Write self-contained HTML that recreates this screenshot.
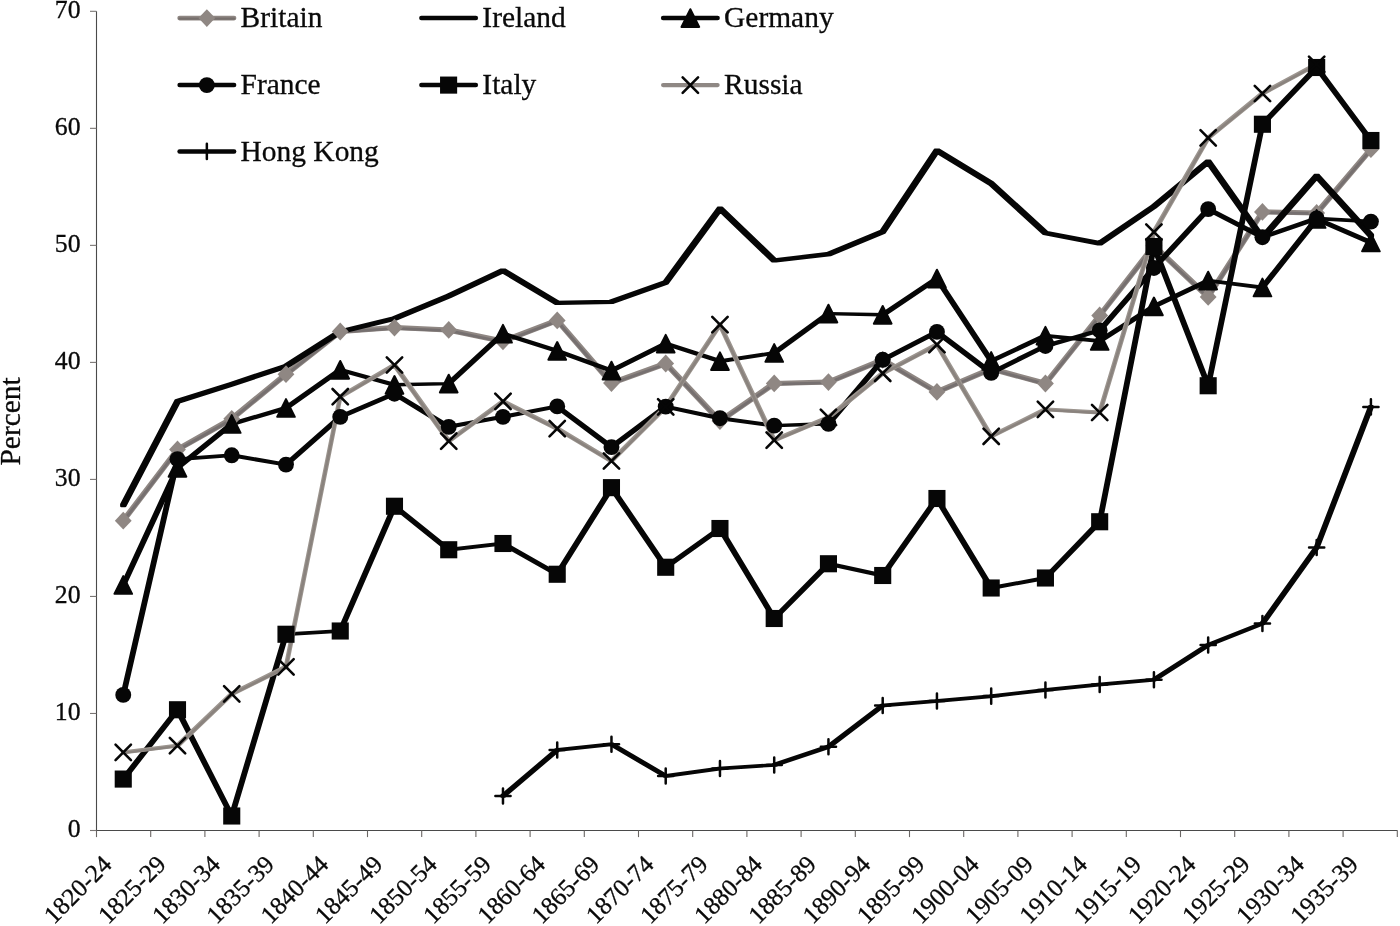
<!DOCTYPE html>
<html lang="en"><head><meta charset="utf-8"><title>Percent chart</title>
<style>
html,body{margin:0;padding:0;background:#fff;}
body{width:1400px;height:926px;overflow:hidden;}
svg{display:block;}
text{font-family:"Liberation Serif","Times New Roman",serif;fill:#0a0a0a;stroke:#0a0a0a;stroke-width:0.3px;}
</style></head><body>
<svg width="1400" height="926" viewBox="0 0 1400 926">
<rect width="1400" height="926" fill="#fff"/>

<g stroke="#4a4a4a" stroke-width="1.1" fill="none">
<path d="M96.5 11.3V830.5H1397.5"/>
<path d="M90 11.30H96.4" stroke="#7a7674"/>
<path d="M90 128.33H96.4" stroke="#7a7674"/>
<path d="M90 245.36H96.4" stroke="#7a7674"/>
<path d="M90 362.39H96.4" stroke="#7a7674"/>
<path d="M90 479.41H96.4" stroke="#7a7674"/>
<path d="M90 596.44H96.4" stroke="#7a7674"/>
<path d="M90 713.47H96.4" stroke="#7a7674"/>
<path d="M90 830.50H96.4" stroke="#7a7674"/>
<path d="M96.50 830.5V837.1" stroke="#6a6664"/>
<path d="M150.70 830.5V837.1" stroke="#6a6664"/>
<path d="M204.90 830.5V837.1" stroke="#6a6664"/>
<path d="M259.10 830.5V837.1" stroke="#6a6664"/>
<path d="M313.30 830.5V837.1" stroke="#6a6664"/>
<path d="M367.50 830.5V837.1" stroke="#6a6664"/>
<path d="M421.70 830.5V837.1" stroke="#6a6664"/>
<path d="M475.90 830.5V837.1" stroke="#6a6664"/>
<path d="M530.10 830.5V837.1" stroke="#6a6664"/>
<path d="M584.30 830.5V837.1" stroke="#6a6664"/>
<path d="M638.50 830.5V837.1" stroke="#6a6664"/>
<path d="M692.70 830.5V837.1" stroke="#6a6664"/>
<path d="M746.90 830.5V837.1" stroke="#6a6664"/>
<path d="M801.10 830.5V837.1" stroke="#6a6664"/>
<path d="M855.30 830.5V837.1" stroke="#6a6664"/>
<path d="M909.50 830.5V837.1" stroke="#6a6664"/>
<path d="M963.70 830.5V837.1" stroke="#6a6664"/>
<path d="M1017.90 830.5V837.1" stroke="#6a6664"/>
<path d="M1072.10 830.5V837.1" stroke="#6a6664"/>
<path d="M1126.30 830.5V837.1" stroke="#6a6664"/>
<path d="M1180.50 830.5V837.1" stroke="#6a6664"/>
<path d="M1234.70 830.5V837.1" stroke="#6a6664"/>
<path d="M1288.90 830.5V837.1" stroke="#6a6664"/>
<path d="M1343.10 830.5V837.1" stroke="#6a6664"/>
<path d="M1397.30 830.5V837.1" stroke="#6a6664"/>
</g>
<g font-size="25.76" text-anchor="end">
<text transform="translate(80.6 17.80)">70</text>
<text transform="translate(80.6 134.83)">60</text>
<text transform="translate(80.6 251.86)">50</text>
<text transform="translate(80.6 368.89)">40</text>
<text transform="translate(80.6 485.91)">30</text>
<text transform="translate(80.6 602.94)">20</text>
<text transform="translate(80.6 719.97)">10</text>
<text transform="translate(80.6 837.00)">0</text>
</g>
<text font-size="29.44" text-anchor="middle" transform="translate(19.6 421.4) rotate(-90)">Percent</text>
<g font-size="25.1" text-anchor="end">
<text transform="translate(113.10 865.8) rotate(-45)">1820-24</text>
<text transform="translate(167.30 865.8) rotate(-45)">1825-29</text>
<text transform="translate(221.50 865.8) rotate(-45)">1830-34</text>
<text transform="translate(275.70 865.8) rotate(-45)">1835-39</text>
<text transform="translate(329.90 865.8) rotate(-45)">1840-44</text>
<text transform="translate(384.10 865.8) rotate(-45)">1845-49</text>
<text transform="translate(438.30 865.8) rotate(-45)">1850-54</text>
<text transform="translate(492.50 865.8) rotate(-45)">1855-59</text>
<text transform="translate(546.70 865.8) rotate(-45)">1860-64</text>
<text transform="translate(600.90 865.8) rotate(-45)">1865-69</text>
<text transform="translate(655.10 865.8) rotate(-45)">1870-74</text>
<text transform="translate(709.30 865.8) rotate(-45)">1875-79</text>
<text transform="translate(763.50 865.8) rotate(-45)">1880-84</text>
<text transform="translate(817.70 865.8) rotate(-45)">1885-89</text>
<text transform="translate(871.90 865.8) rotate(-45)">1890-94</text>
<text transform="translate(926.10 865.8) rotate(-45)">1895-99</text>
<text transform="translate(980.30 865.8) rotate(-45)">1900-04</text>
<text transform="translate(1034.50 865.8) rotate(-45)">1905-09</text>
<text transform="translate(1088.70 865.8) rotate(-45)">1910-14</text>
<text transform="translate(1142.90 865.8) rotate(-45)">1915-19</text>
<text transform="translate(1197.10 865.8) rotate(-45)">1920-24</text>
<text transform="translate(1251.30 865.8) rotate(-45)">1925-29</text>
<text transform="translate(1305.50 865.8) rotate(-45)">1930-34</text>
<text transform="translate(1359.70 865.8) rotate(-45)">1935-39</text>
</g>
<g>
<path d="M122.1 519.2L176.3 448.0L178.6 448.0L178.6 451.0L124.4 522.2L122.1 522.2ZM176.3 448.0L230.6 417.3L232.9 417.3L232.9 420.3L178.6 451.0L176.3 451.0ZM230.6 417.3L284.8 372.7L287.1 372.7L287.1 375.7L232.9 420.3L230.6 420.3ZM284.8 372.7L339.1 330.0L341.4 330.0L341.4 333.0L287.1 375.7L284.8 375.7ZM339.1 330.0L393.3 326.1L395.6 326.1L395.6 329.1L341.4 333.0L339.1 333.0ZM393.3 326.1L395.6 326.1L449.9 328.4L449.9 331.4L447.6 331.4L393.3 329.1ZM447.6 328.4L449.9 328.4L504.1 339.8L504.1 342.8L501.8 342.8L447.6 331.4ZM501.8 339.8L556.1 318.9L558.4 318.9L558.4 321.9L504.1 342.8L501.8 342.8ZM556.1 318.9L558.4 318.9L612.6 381.6L612.6 384.6L610.3 384.6L556.1 321.9ZM610.3 381.6L664.6 362.0L666.9 362.0L666.9 365.0L612.6 384.6L610.3 384.6ZM664.6 362.0L666.9 362.0L721.1 419.5L721.1 422.5L718.8 422.5L664.6 365.0ZM718.8 419.5L773.1 381.9L775.4 381.9L775.4 384.9L721.1 422.5L718.8 422.5ZM773.1 381.9L827.3 380.6L829.6 380.6L829.6 383.6L775.4 384.9L773.1 384.9ZM827.3 380.6L881.5 358.3L883.8 358.3L883.8 361.3L829.6 383.6L827.3 383.6ZM881.5 358.3L883.8 358.3L938.1 390.4L938.1 393.4L935.8 393.4L881.5 361.3ZM935.8 390.4L990.0 367.3L992.3 367.3L992.3 370.3L938.1 393.4L935.8 393.4ZM990.0 367.3L992.3 367.3L1046.6 382.0L1046.6 385.0L1044.3 385.0L990.0 370.3ZM1044.3 382.0L1098.5 314.0L1100.8 314.0L1100.8 317.0L1046.6 385.0L1044.3 385.0ZM1098.5 314.0L1152.8 244.3L1155.1 244.3L1155.1 247.3L1100.8 317.0L1098.5 317.0ZM1152.8 244.3L1155.1 244.3L1209.3 295.4L1209.3 298.4L1207.0 298.4L1152.8 247.3ZM1207.0 295.4L1261.3 210.4L1263.6 210.4L1263.6 213.4L1209.3 298.4L1207.0 298.4ZM1261.3 210.4L1263.6 210.4L1317.8 211.5L1317.8 214.5L1315.5 214.5L1261.3 213.4ZM1315.5 211.5L1369.8 147.7L1372.1 147.7L1372.1 150.7L1317.8 214.5L1315.5 214.5Z" fill="#8f8783" stroke="#8f8783" stroke-width="2.0" stroke-linejoin="round"/>
<polyline transform="scale(1.1 1)" points="112.048,521.40 161.363,450.20 210.677,419.50 259.992,374.90 309.306,332.20 358.621,328.30 407.935,330.60 457.250,342.00 506.565,321.10 555.879,383.80 605.194,364.20 654.508,421.70 703.823,384.10 753.137,382.80 802.452,360.50 851.766,392.60 901.081,369.50 950.395,384.20 999.710,316.20 1049.025,246.50 1098.339,297.60 1147.654,212.60 1196.968,213.70 1246.283,149.90" fill="none" stroke="#767070" stroke-width="2.8" stroke-linejoin="round" stroke-linecap="round"/>
<path d="M121.4 504.4L175.6 400.6L179.4 400.6L179.4 402.2L125.2 506.0L121.4 506.0ZM175.6 400.6L229.8 383.4L233.6 383.4L233.6 385.0L179.4 402.2L175.6 402.2ZM229.8 383.4L284.1 365.4L287.9 365.4L287.9 367.0L233.6 385.0L229.8 385.0ZM284.1 365.4L338.3 330.9L342.1 330.9L342.1 332.5L287.9 367.0L284.1 367.0ZM338.3 330.9L392.6 317.7L396.4 317.7L396.4 319.3L342.1 332.5L338.3 332.5ZM392.6 317.7L446.8 295.2L450.6 295.2L450.6 296.8L396.4 319.3L392.6 319.3ZM446.8 295.2L501.1 269.7L504.9 269.7L504.9 271.3L450.6 296.8L446.8 296.8ZM501.1 269.7L504.9 269.7L559.1 302.0L559.1 303.6L555.3 303.6L501.1 271.3ZM555.3 302.0L609.6 301.0L613.4 301.0L613.4 302.6L559.1 303.6L555.3 303.6ZM609.6 301.0L663.8 281.7L667.6 281.7L667.6 283.3L613.4 302.6L609.6 302.6ZM663.8 281.7L718.1 207.7L721.9 207.7L721.9 209.3L667.6 283.3L663.8 283.3ZM718.1 207.7L721.9 207.7L776.1 259.7L776.1 261.3L772.3 261.3L718.1 209.3ZM772.3 259.7L826.6 253.4L830.4 253.4L830.4 255.0L776.1 261.3L772.3 261.3ZM826.6 253.4L880.8 230.9L884.6 230.9L884.6 232.5L830.4 255.0L826.6 255.0ZM880.8 230.9L935.0 149.7L938.8 149.7L938.8 151.3L884.6 232.5L880.8 232.5ZM935.0 149.7L938.8 149.7L993.1 182.7L993.1 184.3L989.3 184.3L935.0 151.3ZM989.3 182.7L993.1 182.7L1047.3 232.2L1047.3 233.8L1043.5 233.8L989.3 184.3ZM1043.5 232.2L1047.3 232.2L1101.6 242.6L1101.6 244.2L1097.8 244.2L1043.5 233.8ZM1097.8 242.6L1152.0 205.7L1155.8 205.7L1155.8 207.3L1101.6 244.2L1097.8 244.2ZM1152.0 205.7L1206.3 160.7L1210.1 160.7L1210.1 162.3L1155.8 207.3L1152.0 207.3ZM1206.3 160.7L1210.1 160.7L1264.3 237.2L1264.3 238.8L1260.5 238.8L1206.3 162.3ZM1260.5 237.2L1314.8 175.0L1318.6 175.0L1318.6 176.6L1264.3 238.8L1260.5 238.8ZM1314.8 175.0L1318.6 175.0L1372.8 234.7L1372.8 236.3L1369.0 236.3L1314.8 176.6Z" fill="#060606" stroke="#060606" stroke-width="2.6" stroke-linejoin="round"/>
<path d="M121.6 584.4L175.8 467.2L179.2 467.2L179.2 468.4L125.0 585.6L121.6 585.6ZM175.8 467.2L230.0 423.4L233.4 423.4L233.4 424.6L179.2 468.4L175.8 468.4ZM230.0 423.4L284.3 407.4L287.7 407.4L287.7 408.6L233.4 424.6L230.0 424.6ZM284.3 407.4L338.5 369.2L341.9 369.2L341.9 370.4L287.7 408.6L284.3 408.6ZM338.5 369.2L341.9 369.2L396.2 384.2L396.2 385.5L392.8 385.5L338.5 370.4ZM392.8 384.2L447.0 383.0L450.4 383.0L450.4 384.2L396.2 385.5L392.8 385.5ZM447.0 383.0L501.3 333.1L504.7 333.1L504.7 334.3L450.4 384.2L447.0 384.2ZM501.3 333.1L504.7 333.1L558.9 350.2L558.9 351.5L555.5 351.5L501.3 334.3ZM555.5 350.2L558.9 350.2L613.2 370.0L613.2 371.2L609.8 371.2L555.5 351.5ZM609.8 370.0L664.0 343.1L667.4 343.1L667.4 344.3L613.2 371.2L609.8 371.2ZM664.0 343.1L667.4 343.1L721.7 360.6L721.7 361.8L718.3 361.8L664.0 344.3ZM718.3 360.6L772.5 352.4L775.9 352.4L775.9 353.6L721.7 361.8L718.3 361.8ZM772.5 352.4L826.8 313.0L830.2 313.0L830.2 314.2L775.9 353.6L772.5 353.6ZM826.8 313.0L830.2 313.0L884.4 314.2L884.4 315.5L881.0 315.5L826.8 314.2ZM881.0 314.2L935.2 278.0L938.6 278.0L938.6 279.2L884.4 315.5L881.0 315.5ZM935.2 278.0L938.6 278.0L992.9 360.4L992.9 361.6L989.5 361.6L935.2 279.2ZM989.5 360.4L1043.7 335.1L1047.1 335.1L1047.1 336.3L992.9 361.6L989.5 361.6ZM1043.7 335.1L1047.1 335.1L1101.4 340.4L1101.4 341.6L1098.0 341.6L1043.7 336.3ZM1098.0 340.4L1152.2 305.8L1155.6 305.8L1155.6 307.0L1101.4 341.6L1098.0 341.6ZM1152.2 305.8L1206.5 280.0L1209.9 280.0L1209.9 281.2L1155.6 307.0L1152.2 307.0ZM1206.5 280.0L1209.9 280.0L1264.1 286.9L1264.1 288.1L1260.7 288.1L1206.5 281.2ZM1260.7 286.9L1315.0 218.3L1318.4 218.3L1318.4 219.7L1264.1 288.1L1260.7 288.1ZM1315.0 218.3L1318.4 218.3L1372.6 241.8L1372.6 243.2L1369.2 243.2L1315.0 219.7Z" fill="#060606" stroke="#060606" stroke-width="2.2" stroke-linejoin="round"/>
<path d="M121.6 694.2L175.8 458.6L179.2 458.6L179.2 459.8L125.0 695.5L121.6 695.5ZM175.8 458.6L230.0 454.7L233.4 454.7L233.4 455.9L179.2 459.8L175.8 459.8ZM230.0 454.7L233.4 454.7L287.7 464.0L287.7 465.2L284.3 465.2L230.0 455.9ZM284.3 464.0L338.5 416.2L341.9 416.2L341.9 417.5L287.7 465.2L284.3 465.2ZM338.5 416.2L392.8 393.1L396.2 393.1L396.2 394.3L341.9 417.5L338.5 417.5ZM392.8 393.1L396.2 393.1L450.4 426.2L450.4 427.5L447.0 427.5L392.8 394.3ZM447.0 426.2L501.3 416.2L504.7 416.2L504.7 417.5L450.4 427.5L447.0 427.5ZM501.3 416.2L555.5 405.8L558.9 405.8L558.9 407.0L504.7 417.5L501.3 417.5ZM555.5 405.8L558.9 405.8L613.2 446.5L613.2 447.8L609.8 447.8L555.5 407.0ZM609.8 446.5L664.0 406.0L667.4 406.0L667.4 407.2L613.2 447.8L609.8 447.8ZM664.0 406.0L667.4 406.0L721.7 417.6L721.7 418.8L718.3 418.8L664.0 407.2ZM718.3 417.6L721.7 417.6L775.9 425.0L775.9 426.2L772.5 426.2L718.3 418.8ZM772.5 425.0L826.8 423.2L830.2 423.2L830.2 424.5L775.9 426.2L772.5 426.2ZM826.8 423.2L881.0 359.2L884.4 359.2L884.4 360.4L830.2 424.5L826.8 424.5ZM881.0 359.2L935.2 331.2L938.6 331.2L938.6 332.5L884.4 360.4L881.0 360.4ZM935.2 331.2L938.6 331.2L992.9 372.2L992.9 373.5L989.5 373.5L935.2 332.5ZM989.5 372.2L1043.7 345.4L1047.1 345.4L1047.1 346.6L992.9 373.5L989.5 373.5ZM1043.7 345.4L1098.0 329.8L1101.4 329.8L1101.4 331.0L1047.1 346.6L1043.7 346.6ZM1098.0 329.8L1152.2 267.4L1155.6 267.4L1155.6 268.6L1101.4 331.0L1098.0 331.0ZM1152.2 267.4L1206.5 208.4L1209.9 208.4L1209.9 209.8L1155.6 268.6L1152.2 268.6ZM1206.5 208.4L1209.9 208.4L1264.1 236.5L1264.1 237.8L1260.7 237.8L1206.5 209.8ZM1260.7 236.5L1315.0 217.8L1318.4 217.8L1318.4 219.1L1264.1 237.8L1260.7 237.8ZM1315.0 217.8L1318.4 217.8L1372.6 220.9L1372.6 222.2L1369.2 222.2L1315.0 219.1Z" fill="#060606" stroke="#060606" stroke-width="2.2" stroke-linejoin="round"/>
<path d="M121.6 778.4L175.8 709.1L179.2 709.1L179.2 710.4L125.0 779.7L121.6 779.7ZM175.8 709.1L179.2 709.1L233.4 815.4L233.4 816.6L230.0 816.6L175.8 710.4ZM230.0 815.4L284.3 633.6L287.7 633.6L287.7 634.9L233.4 816.6L230.0 816.6ZM284.3 633.6L338.5 630.4L341.9 630.4L341.9 631.6L287.7 634.9L284.3 634.9ZM338.5 630.4L392.8 505.6L396.2 505.6L396.2 506.9L341.9 631.6L338.5 631.6ZM392.8 505.6L396.2 505.6L450.4 549.1L450.4 550.4L447.0 550.4L392.8 506.9ZM447.0 549.1L501.3 542.9L504.7 542.9L504.7 544.1L450.4 550.4L447.0 550.4ZM501.3 542.9L504.7 542.9L558.9 573.6L558.9 574.9L555.5 574.9L501.3 544.1ZM555.5 573.6L609.8 487.0L613.2 487.0L613.2 488.3L558.9 574.9L555.5 574.9ZM609.8 487.0L613.2 487.0L667.4 566.6L667.4 567.9L664.0 567.9L609.8 488.3ZM664.0 566.6L718.3 527.9L721.7 527.9L721.7 529.1L667.4 567.9L664.0 567.9ZM718.3 527.9L721.7 527.9L775.9 617.9L775.9 619.1L772.5 619.1L718.3 529.1ZM772.5 617.9L826.8 563.1L830.2 563.1L830.2 564.4L775.9 619.1L772.5 619.1ZM826.8 563.1L830.2 563.1L884.4 574.9L884.4 576.1L881.0 576.1L826.8 564.4ZM881.0 574.9L935.2 497.9L938.6 497.9L938.6 499.1L884.4 576.1L881.0 576.1ZM935.2 497.9L938.6 497.9L992.9 587.4L992.9 588.6L989.5 588.6L935.2 499.1ZM989.5 587.4L1043.7 577.4L1047.1 577.4L1047.1 578.6L992.9 588.6L989.5 588.6ZM1043.7 577.4L1098.0 521.1L1101.4 521.1L1101.4 522.4L1047.1 578.6L1043.7 578.6ZM1098.0 521.1L1152.2 245.8L1155.6 245.8L1155.6 247.2L1101.4 522.4L1098.0 522.4ZM1152.2 245.8L1155.6 245.8L1209.9 385.1L1209.9 386.4L1206.5 386.4L1152.2 247.2ZM1206.5 385.1L1260.7 123.6L1264.1 123.6L1264.1 124.9L1209.9 386.4L1206.5 386.4ZM1260.7 123.6L1315.0 66.8L1318.4 66.8L1318.4 68.2L1264.1 124.9L1260.7 124.9ZM1315.0 66.8L1318.4 66.8L1372.6 139.8L1372.6 141.2L1369.2 141.2L1315.0 68.2Z" fill="#060606" stroke="#060606" stroke-width="2.2" stroke-linejoin="round"/>
<path d="M122.1 751.5L176.3 744.7L178.7 744.7L178.7 746.5L124.4 753.3L122.1 753.3ZM176.3 744.7L230.6 693.0L232.9 693.0L232.9 694.8L178.7 746.5L176.3 746.5ZM230.6 693.0L284.8 666.0L287.2 666.0L287.2 667.8L232.9 694.8L230.6 694.8ZM284.8 666.0L339.1 395.8L341.4 395.8L341.4 397.6L287.2 667.8L284.8 667.8ZM339.1 395.8L393.3 364.1L395.7 364.1L395.7 365.9L341.4 397.6L339.1 397.6ZM393.3 364.1L395.7 364.1L449.9 440.2L449.9 442.0L447.6 442.0L393.3 365.9ZM447.6 440.2L501.8 400.5L504.2 400.5L504.2 402.3L449.9 442.0L447.6 442.0ZM501.8 400.5L504.2 400.5L558.4 427.7L558.4 429.5L556.0 429.5L501.8 402.3ZM556.0 427.7L558.4 427.7L612.6 460.1L612.6 461.9L610.3 461.9L556.0 429.5ZM610.3 460.1L664.5 406.0L666.9 406.0L666.9 407.8L612.6 461.9L610.3 461.9ZM664.5 406.0L718.8 323.7L721.1 323.7L721.1 325.5L666.9 407.8L664.5 407.8ZM718.8 323.7L721.1 323.7L775.4 439.2L775.4 441.0L773.0 441.0L718.8 325.5ZM773.0 439.2L827.3 416.5L829.6 416.5L829.6 418.3L775.4 441.0L773.0 441.0ZM827.3 416.5L881.5 372.4L883.9 372.4L883.9 374.2L829.6 418.3L827.3 418.3ZM881.5 372.4L935.8 343.7L938.1 343.7L938.1 345.5L883.9 374.2L881.5 374.2ZM935.8 343.7L938.1 343.7L992.4 435.4L992.4 437.2L990.0 437.2L935.8 345.5ZM990.0 435.4L1044.3 408.5L1046.6 408.5L1046.6 410.3L992.4 437.2L990.0 437.2ZM1044.3 408.5L1046.6 408.5L1100.9 411.6L1100.9 413.4L1098.5 413.4L1044.3 410.3ZM1098.5 411.6L1152.8 231.1L1155.1 231.1L1155.1 232.9L1100.9 413.4L1098.5 413.4ZM1152.8 231.1L1207.0 136.9L1209.3 136.9L1209.3 138.8L1155.1 232.9L1152.8 232.9ZM1207.0 136.9L1261.2 92.6L1263.6 92.6L1263.6 94.4L1209.3 138.8L1207.0 138.8ZM1261.2 92.6L1315.5 63.4L1317.8 63.4L1317.8 65.2L1263.6 94.4L1261.2 94.4Z" fill="#9c958f" stroke="#9c958f" stroke-width="2.0" stroke-linejoin="round"/>
<polyline transform="scale(1.1 1)" points="112.048,752.90 161.363,746.10 210.677,694.35 259.992,667.35 309.306,397.20 358.621,365.50 407.935,441.60 457.250,401.90 506.565,429.10 555.879,461.50 605.194,407.40 654.508,325.10 703.823,440.60 753.137,417.90 802.452,373.80 851.766,345.10 901.081,436.80 950.395,409.90 999.710,413.00 1049.025,232.50 1098.339,138.35 1147.654,94.00 1196.968,64.75" fill="none" stroke="#8a837e" stroke-width="2.4" stroke-linejoin="round" stroke-linecap="round"/>
<path d="M501.3 795.4L555.5 749.4L558.9 749.4L558.9 750.6L504.7 796.6L501.3 796.6ZM555.5 749.4L609.8 743.6L613.2 743.6L613.2 744.9L558.9 750.6L555.5 750.6ZM609.8 743.6L613.2 743.6L667.4 775.4L667.4 776.6L664.0 776.6L609.8 744.9ZM664.0 775.4L718.3 767.9L721.7 767.9L721.7 769.1L667.4 776.6L664.0 776.6ZM718.3 767.9L772.5 764.4L775.9 764.4L775.9 765.6L721.7 769.1L718.3 769.1ZM772.5 764.4L826.8 746.1L830.2 746.1L830.2 747.4L775.9 765.6L772.5 765.6ZM826.8 746.1L881.0 704.9L884.4 704.9L884.4 706.1L830.2 747.4L826.8 747.4ZM881.0 704.9L935.2 700.4L938.6 700.4L938.6 701.6L884.4 706.1L881.0 706.1ZM935.2 700.4L989.5 695.5L992.9 695.5L992.9 696.8L938.6 701.6L935.2 701.6ZM989.5 695.5L1043.7 689.4L1047.1 689.4L1047.1 690.6L992.9 696.8L989.5 696.8ZM1043.7 689.4L1098.0 683.9L1101.4 683.9L1101.4 685.1L1047.1 690.6L1043.7 690.6ZM1098.0 683.9L1152.2 679.1L1155.6 679.1L1155.6 680.4L1101.4 685.1L1098.0 685.1ZM1152.2 679.1L1206.5 644.4L1209.9 644.4L1209.9 645.6L1155.6 680.4L1152.2 680.4ZM1206.5 644.4L1260.7 622.9L1264.1 622.9L1264.1 624.1L1209.9 645.6L1206.5 645.6ZM1260.7 622.9L1315.0 546.9L1318.4 546.9L1318.4 548.1L1264.1 624.1L1260.7 624.1ZM1315.0 546.9L1369.2 406.2L1372.6 406.2L1372.6 407.5L1318.4 548.1L1315.0 548.1Z" fill="#060606" stroke="#060606" stroke-width="2.2" stroke-linejoin="round"/>
</g>
<g>
<path d="M123.25 511.80L131.65 520.70L123.25 529.60L114.85 520.70Z" fill="#8f8783"/><path d="M177.50 440.60L185.90 449.50L177.50 458.40L169.10 449.50Z" fill="#8f8783"/><path d="M231.75 409.90L240.15 418.80L231.75 427.70L223.34 418.80Z" fill="#8f8783"/><path d="M285.99 365.30L294.39 374.20L285.99 383.10L277.59 374.20Z" fill="#8f8783"/><path d="M340.24 322.60L348.64 331.50L340.24 340.40L331.84 331.50Z" fill="#8f8783"/><path d="M394.48 318.70L402.88 327.60L394.48 336.50L386.08 327.60Z" fill="#8f8783"/><path d="M448.73 321.00L457.13 329.90L448.73 338.80L440.33 329.90Z" fill="#8f8783"/><path d="M502.98 332.40L511.38 341.30L502.98 350.20L494.58 341.30Z" fill="#8f8783"/><path d="M557.22 311.50L565.62 320.40L557.22 329.30L548.82 320.40Z" fill="#8f8783"/><path d="M611.47 374.20L619.87 383.10L611.47 392.00L603.07 383.10Z" fill="#8f8783"/><path d="M665.71 354.60L674.11 363.50L665.71 372.40L657.31 363.50Z" fill="#8f8783"/><path d="M719.96 412.10L728.36 421.00L719.96 429.90L711.56 421.00Z" fill="#8f8783"/><path d="M774.21 374.50L782.61 383.40L774.21 392.30L765.81 383.40Z" fill="#8f8783"/><path d="M828.45 373.20L836.85 382.10L828.45 391.00L820.05 382.10Z" fill="#8f8783"/><path d="M882.70 350.90L891.10 359.80L882.70 368.70L874.30 359.80Z" fill="#8f8783"/><path d="M936.94 383.00L945.34 391.90L936.94 400.80L928.54 391.90Z" fill="#8f8783"/><path d="M991.19 359.90L999.59 368.80L991.19 377.70L982.79 368.80Z" fill="#8f8783"/><path d="M1045.43 374.60L1053.84 383.50L1045.43 392.40L1037.03 383.50Z" fill="#8f8783"/><path d="M1099.68 306.60L1108.08 315.50L1099.68 324.40L1091.28 315.50Z" fill="#8f8783"/><path d="M1153.93 236.90L1162.33 245.80L1153.93 254.70L1145.53 245.80Z" fill="#8f8783"/><path d="M1208.17 288.00L1216.57 296.90L1208.17 305.80L1199.77 296.90Z" fill="#8f8783"/><path d="M1262.42 203.00L1270.82 211.90L1262.42 220.80L1254.02 211.90Z" fill="#8f8783"/><path d="M1316.66 204.10L1325.07 213.00L1316.66 221.90L1308.26 213.00Z" fill="#8f8783"/><path d="M1370.91 140.30L1379.31 149.20L1370.91 158.10L1362.51 149.20Z" fill="#8f8783"/>
<path d="M123.25 576.15L132.10 593.85L114.40 593.85Z" fill="#060606" stroke="#060606" stroke-width="2" stroke-linejoin="round"/><path d="M177.50 458.95L186.35 476.65L168.65 476.65Z" fill="#060606" stroke="#060606" stroke-width="2" stroke-linejoin="round"/><path d="M231.75 415.15L240.59 432.85L222.90 432.85Z" fill="#060606" stroke="#060606" stroke-width="2" stroke-linejoin="round"/><path d="M285.99 399.15L294.84 416.85L277.14 416.85Z" fill="#060606" stroke="#060606" stroke-width="2" stroke-linejoin="round"/><path d="M340.24 360.95L349.09 378.65L331.39 378.65Z" fill="#060606" stroke="#060606" stroke-width="2" stroke-linejoin="round"/><path d="M394.48 376.05L403.33 393.75L385.63 393.75Z" fill="#060606" stroke="#060606" stroke-width="2" stroke-linejoin="round"/><path d="M448.73 374.75L457.58 392.45L439.88 392.45Z" fill="#060606" stroke="#060606" stroke-width="2" stroke-linejoin="round"/><path d="M502.98 324.85L511.83 342.55L494.12 342.55Z" fill="#060606" stroke="#060606" stroke-width="2" stroke-linejoin="round"/><path d="M557.22 342.05L566.07 359.75L548.37 359.75Z" fill="#060606" stroke="#060606" stroke-width="2" stroke-linejoin="round"/><path d="M611.47 361.75L620.32 379.45L602.62 379.45Z" fill="#060606" stroke="#060606" stroke-width="2" stroke-linejoin="round"/><path d="M665.71 334.85L674.56 352.55L656.86 352.55Z" fill="#060606" stroke="#060606" stroke-width="2" stroke-linejoin="round"/><path d="M719.96 352.35L728.81 370.05L711.11 370.05Z" fill="#060606" stroke="#060606" stroke-width="2" stroke-linejoin="round"/><path d="M774.21 344.15L783.06 361.85L765.36 361.85Z" fill="#060606" stroke="#060606" stroke-width="2" stroke-linejoin="round"/><path d="M828.45 304.75L837.30 322.45L819.60 322.45Z" fill="#060606" stroke="#060606" stroke-width="2" stroke-linejoin="round"/><path d="M882.70 306.00L891.55 323.70L873.85 323.70Z" fill="#060606" stroke="#060606" stroke-width="2" stroke-linejoin="round"/><path d="M936.94 269.75L945.79 287.45L928.09 287.45Z" fill="#060606" stroke="#060606" stroke-width="2" stroke-linejoin="round"/><path d="M991.19 352.15L1000.04 369.85L982.34 369.85Z" fill="#060606" stroke="#060606" stroke-width="2" stroke-linejoin="round"/><path d="M1045.43 326.85L1054.28 344.55L1036.59 344.55Z" fill="#060606" stroke="#060606" stroke-width="2" stroke-linejoin="round"/><path d="M1099.68 332.15L1108.53 349.85L1090.83 349.85Z" fill="#060606" stroke="#060606" stroke-width="2" stroke-linejoin="round"/><path d="M1153.93 297.55L1162.78 315.25L1145.08 315.25Z" fill="#060606" stroke="#060606" stroke-width="2" stroke-linejoin="round"/><path d="M1208.17 271.75L1217.02 289.45L1199.32 289.45Z" fill="#060606" stroke="#060606" stroke-width="2" stroke-linejoin="round"/><path d="M1262.42 278.65L1271.27 296.35L1253.57 296.35Z" fill="#060606" stroke="#060606" stroke-width="2" stroke-linejoin="round"/><path d="M1316.66 210.15L1325.51 227.85L1307.82 227.85Z" fill="#060606" stroke="#060606" stroke-width="2" stroke-linejoin="round"/><path d="M1370.91 233.65L1379.76 251.35L1362.06 251.35Z" fill="#060606" stroke="#060606" stroke-width="2" stroke-linejoin="round"/>
<circle cx="123.25" cy="694.90" r="7.95" fill="#060606"/><circle cx="177.50" cy="459.20" r="7.95" fill="#060606"/><circle cx="231.75" cy="455.30" r="7.95" fill="#060606"/><circle cx="285.99" cy="464.60" r="7.95" fill="#060606"/><circle cx="340.24" cy="416.90" r="7.95" fill="#060606"/><circle cx="394.48" cy="393.70" r="7.95" fill="#060606"/><circle cx="448.73" cy="426.85" r="7.95" fill="#060606"/><circle cx="502.98" cy="416.85" r="7.95" fill="#060606"/><circle cx="557.22" cy="406.40" r="7.95" fill="#060606"/><circle cx="611.47" cy="447.10" r="7.95" fill="#060606"/><circle cx="665.71" cy="406.60" r="7.95" fill="#060606"/><circle cx="719.96" cy="418.20" r="7.95" fill="#060606"/><circle cx="774.21" cy="425.60" r="7.95" fill="#060606"/><circle cx="828.45" cy="423.90" r="7.95" fill="#060606"/><circle cx="882.70" cy="359.80" r="7.95" fill="#060606"/><circle cx="936.94" cy="331.90" r="7.95" fill="#060606"/><circle cx="991.19" cy="372.90" r="7.95" fill="#060606"/><circle cx="1045.43" cy="346.00" r="7.95" fill="#060606"/><circle cx="1099.68" cy="330.40" r="7.95" fill="#060606"/><circle cx="1153.93" cy="268.00" r="7.95" fill="#060606"/><circle cx="1208.17" cy="209.10" r="7.95" fill="#060606"/><circle cx="1262.42" cy="237.20" r="7.95" fill="#060606"/><circle cx="1316.66" cy="218.40" r="7.95" fill="#060606"/><circle cx="1370.91" cy="221.60" r="7.95" fill="#060606"/>
<rect x="114.70" y="770.52" width="17.1" height="17.1" fill="#060606"/><rect x="168.95" y="701.20" width="17.1" height="17.1" fill="#060606"/><rect x="223.19" y="807.45" width="17.1" height="17.1" fill="#060606"/><rect x="277.44" y="625.70" width="17.1" height="17.1" fill="#060606"/><rect x="331.69" y="622.45" width="17.1" height="17.1" fill="#060606"/><rect x="385.93" y="497.70" width="17.1" height="17.1" fill="#060606"/><rect x="440.18" y="541.20" width="17.1" height="17.1" fill="#060606"/><rect x="494.43" y="534.95" width="17.1" height="17.1" fill="#060606"/><rect x="548.67" y="565.70" width="17.1" height="17.1" fill="#060606"/><rect x="602.92" y="479.10" width="17.1" height="17.1" fill="#060606"/><rect x="657.16" y="558.70" width="17.1" height="17.1" fill="#060606"/><rect x="711.41" y="519.95" width="17.1" height="17.1" fill="#060606"/><rect x="765.66" y="609.95" width="17.1" height="17.1" fill="#060606"/><rect x="819.90" y="555.20" width="17.1" height="17.1" fill="#060606"/><rect x="874.15" y="566.95" width="17.1" height="17.1" fill="#060606"/><rect x="928.39" y="489.95" width="17.1" height="17.1" fill="#060606"/><rect x="982.64" y="579.45" width="17.1" height="17.1" fill="#060606"/><rect x="1036.88" y="569.45" width="17.1" height="17.1" fill="#060606"/><rect x="1091.13" y="513.20" width="17.1" height="17.1" fill="#060606"/><rect x="1145.38" y="237.95" width="17.1" height="17.1" fill="#060606"/><rect x="1199.62" y="377.20" width="17.1" height="17.1" fill="#060606"/><rect x="1253.87" y="115.70" width="17.1" height="17.1" fill="#060606"/><rect x="1308.12" y="58.95" width="17.1" height="17.1" fill="#060606"/><rect x="1362.36" y="131.95" width="17.1" height="17.1" fill="#060606"/>
<path d="M115.55 744.70L130.95 760.10M115.55 760.10L130.95 744.70" stroke="#060606" stroke-width="2.6" stroke-linecap="round" fill="none"/><path d="M169.80 737.90L185.20 753.30M169.80 753.30L185.20 737.90" stroke="#060606" stroke-width="2.6" stroke-linecap="round" fill="none"/><path d="M224.05 686.15L239.44 701.55M224.05 701.55L239.44 686.15" stroke="#060606" stroke-width="2.6" stroke-linecap="round" fill="none"/><path d="M278.29 659.15L293.69 674.55M278.29 674.55L293.69 659.15" stroke="#060606" stroke-width="2.6" stroke-linecap="round" fill="none"/><path d="M332.54 389.00L347.94 404.40M332.54 404.40L347.94 389.00" stroke="#060606" stroke-width="2.6" stroke-linecap="round" fill="none"/><path d="M386.78 357.30L402.18 372.70M386.78 372.70L402.18 357.30" stroke="#060606" stroke-width="2.6" stroke-linecap="round" fill="none"/><path d="M441.03 433.40L456.43 448.80M441.03 448.80L456.43 433.40" stroke="#060606" stroke-width="2.6" stroke-linecap="round" fill="none"/><path d="M495.28 393.70L510.68 409.10M495.28 409.10L510.68 393.70" stroke="#060606" stroke-width="2.6" stroke-linecap="round" fill="none"/><path d="M549.52 420.90L564.92 436.30M549.52 436.30L564.92 420.90" stroke="#060606" stroke-width="2.6" stroke-linecap="round" fill="none"/><path d="M603.77 453.30L619.17 468.70M603.77 468.70L619.17 453.30" stroke="#060606" stroke-width="2.6" stroke-linecap="round" fill="none"/><path d="M658.01 399.20L673.41 414.60M658.01 414.60L673.41 399.20" stroke="#060606" stroke-width="2.6" stroke-linecap="round" fill="none"/><path d="M712.26 316.90L727.66 332.30M712.26 332.30L727.66 316.90" stroke="#060606" stroke-width="2.6" stroke-linecap="round" fill="none"/><path d="M766.50 432.40L781.91 447.80M766.50 447.80L781.91 432.40" stroke="#060606" stroke-width="2.6" stroke-linecap="round" fill="none"/><path d="M820.75 409.70L836.15 425.10M820.75 425.10L836.15 409.70" stroke="#060606" stroke-width="2.6" stroke-linecap="round" fill="none"/><path d="M875.00 365.60L890.40 381.00M875.00 381.00L890.40 365.60" stroke="#060606" stroke-width="2.6" stroke-linecap="round" fill="none"/><path d="M929.24 336.90L944.64 352.30M929.24 352.30L944.64 336.90" stroke="#060606" stroke-width="2.6" stroke-linecap="round" fill="none"/><path d="M983.49 428.60L998.89 444.00M983.49 444.00L998.89 428.60" stroke="#060606" stroke-width="2.6" stroke-linecap="round" fill="none"/><path d="M1037.73 401.70L1053.13 417.10M1037.73 417.10L1053.13 401.70" stroke="#060606" stroke-width="2.6" stroke-linecap="round" fill="none"/><path d="M1091.98 404.80L1107.38 420.20M1091.98 420.20L1107.38 404.80" stroke="#060606" stroke-width="2.6" stroke-linecap="round" fill="none"/><path d="M1146.23 224.30L1161.63 239.70M1146.23 239.70L1161.63 224.30" stroke="#060606" stroke-width="2.6" stroke-linecap="round" fill="none"/><path d="M1200.47 130.15L1215.87 145.55M1200.47 145.55L1215.87 130.15" stroke="#060606" stroke-width="2.6" stroke-linecap="round" fill="none"/><path d="M1254.72 85.80L1270.12 101.20M1254.72 101.20L1270.12 85.80" stroke="#060606" stroke-width="2.6" stroke-linecap="round" fill="none"/><path d="M1308.96 56.55L1324.37 71.95M1308.96 71.95L1324.37 56.55" stroke="#060606" stroke-width="2.6" stroke-linecap="round" fill="none"/>
<path d="M495.38 796.00L510.58 796.00M502.98 788.40L502.98 803.60" stroke="#060606" stroke-width="2.5" stroke-linecap="round" fill="none"/><path d="M549.62 750.00L564.82 750.00M557.22 742.40L557.22 757.60" stroke="#060606" stroke-width="2.5" stroke-linecap="round" fill="none"/><path d="M603.87 744.25L619.07 744.25M611.47 736.65L611.47 751.85" stroke="#060606" stroke-width="2.5" stroke-linecap="round" fill="none"/><path d="M658.11 776.00L673.31 776.00M665.71 768.40L665.71 783.60" stroke="#060606" stroke-width="2.5" stroke-linecap="round" fill="none"/><path d="M712.36 768.50L727.56 768.50M719.96 760.90L719.96 776.10" stroke="#060606" stroke-width="2.5" stroke-linecap="round" fill="none"/><path d="M766.61 765.00L781.81 765.00M774.21 757.40L774.21 772.60" stroke="#060606" stroke-width="2.5" stroke-linecap="round" fill="none"/><path d="M820.85 746.75L836.05 746.75M828.45 739.15L828.45 754.35" stroke="#060606" stroke-width="2.5" stroke-linecap="round" fill="none"/><path d="M875.10 705.50L890.30 705.50M882.70 697.90L882.70 713.10" stroke="#060606" stroke-width="2.5" stroke-linecap="round" fill="none"/><path d="M929.34 701.00L944.54 701.00M936.94 693.40L936.94 708.60" stroke="#060606" stroke-width="2.5" stroke-linecap="round" fill="none"/><path d="M983.59 696.10L998.79 696.10M991.19 688.50L991.19 703.70" stroke="#060606" stroke-width="2.5" stroke-linecap="round" fill="none"/><path d="M1037.84 690.00L1053.03 690.00M1045.43 682.40L1045.43 697.60" stroke="#060606" stroke-width="2.5" stroke-linecap="round" fill="none"/><path d="M1092.08 684.50L1107.28 684.50M1099.68 676.90L1099.68 692.10" stroke="#060606" stroke-width="2.5" stroke-linecap="round" fill="none"/><path d="M1146.33 679.75L1161.53 679.75M1153.93 672.15L1153.93 687.35" stroke="#060606" stroke-width="2.5" stroke-linecap="round" fill="none"/><path d="M1200.57 645.00L1215.77 645.00M1208.17 637.40L1208.17 652.60" stroke="#060606" stroke-width="2.5" stroke-linecap="round" fill="none"/><path d="M1254.82 623.50L1270.02 623.50M1262.42 615.90L1262.42 631.10" stroke="#060606" stroke-width="2.5" stroke-linecap="round" fill="none"/><path d="M1309.07 547.50L1324.26 547.50M1316.66 539.90L1316.66 555.10" stroke="#060606" stroke-width="2.5" stroke-linecap="round" fill="none"/><path d="M1363.31 406.90L1378.51 406.90M1370.91 399.30L1370.91 414.50" stroke="#060606" stroke-width="2.5" stroke-linecap="round" fill="none"/>
</g>
<g>
<path d="M179.6 18.1H234.1" stroke="#8f8783" stroke-width="4.6" stroke-linecap="round" fill="none"/><path d="M179.6 18.6H234.1" stroke="#766f6c" stroke-width="2.4" stroke-linecap="round" fill="none"/><path d="M206.85 9.20L215.25 18.10L206.85 27.00L198.45 18.10Z" fill="#8f8783"/><text font-size="29.44" transform="translate(240.60 27.30)">Britain</text>
<path d="M421.35 18.1H475.85" stroke="#060606" stroke-width="4.5" stroke-linecap="round" fill="none"/><text font-size="29.44" transform="translate(482.35 27.30)">Ireland</text>
<path d="M663.1 18.1H717.6" stroke="#060606" stroke-width="4.5" stroke-linecap="round" fill="none"/><path d="M690.35 9.25L699.20 26.95L681.50 26.95Z" fill="#060606" stroke="#060606" stroke-width="2" stroke-linejoin="round"/><text font-size="29.44" transform="translate(724.10 27.30)">Germany</text>
<path d="M179.6 85.1H234.1" stroke="#060606" stroke-width="4.5" stroke-linecap="round" fill="none"/><circle cx="206.85" cy="85.10" r="7.95" fill="#060606"/><text font-size="29.44" transform="translate(240.60 94.30)">France</text>
<path d="M421.35 85.1H475.85" stroke="#060606" stroke-width="4.5" stroke-linecap="round" fill="none"/><rect x="440.05" y="76.55" width="17.1" height="17.1" fill="#060606"/><text font-size="29.44" transform="translate(482.35 94.30)">Italy</text>
<path d="M663.1 85.1H717.6" stroke="#8f8884" stroke-width="4.2" stroke-linecap="round" fill="none"/><path d="M682.65 77.40L698.05 92.80M682.65 92.80L698.05 77.40" stroke="#060606" stroke-width="2.6" stroke-linecap="round" fill="none"/><text font-size="29.44" transform="translate(724.10 94.30)">Russia</text>
<path d="M179.6 151.4H234.1" stroke="#060606" stroke-width="4.5" stroke-linecap="round" fill="none"/><path d="M199.25 151.40L214.45 151.40M206.85 143.80L206.85 159.00" stroke="#060606" stroke-width="2.5" stroke-linecap="round" fill="none"/><text font-size="29.44" transform="translate(240.60 160.60)">Hong Kong</text>
</g>
</svg></body></html>
